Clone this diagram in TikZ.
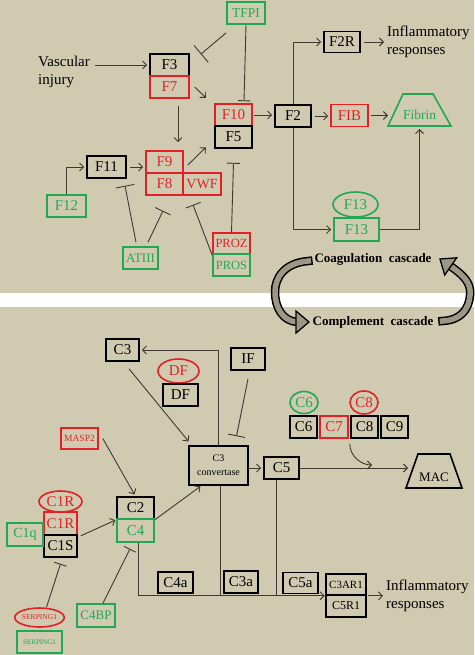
\documentclass[tikz,border=0pt]{standalone}
\usepackage{fontspec}
\setmainfont{Liberation Serif}
\usepackage{tikz}
\usetikzlibrary{arrows.meta, shapes.geometric}

\definecolor{bg}{RGB}{208,202,177}
\definecolor{myred}{RGB}{228,32,38}
\definecolor{mygreen}{RGB}{34,168,84}
\definecolor{linegray}{RGB}{62,58,48}
\definecolor{arrowfill}{RGB}{156,151,130}

\tikzset{
  box/.style={draw, line width=1.6pt, inner sep=0pt, minimum height=22pt, font=\fontsize{15}{18}\selectfont},
  blk/.style={box, draw=black, text=black},
  rbox/.style={box, draw=myred, text=myred},
  gbox/.style={box, draw=mygreen, text=mygreen},
  oval/.style={ellipse, line width=1.6pt, inner sep=0pt, font=\fontsize{15}{18}\selectfont},
  rell/.style={oval, draw=myred, text=myred},
  gell/.style={oval, draw=mygreen, text=mygreen},
  trap/.style={inner sep=0pt, outer sep=0pt, minimum height=22pt},
  txt/.style={inner sep=1pt, align=left, font=\fontsize{15}{18}\selectfont},
  casc/.style={inner sep=1pt, font=\bfseries\fontsize{13}{15}\selectfont},
  arr/.style={draw=linegray, line width=0.9pt, -{Straight Barb[length=4pt,width=8pt]}, shorten >=2pt},
  inh/.style={draw=linegray, line width=0.9pt, -{Bar[width=14pt]}},
  ln/.style={draw=linegray, line width=0.9pt},
  bigarr/.style={line width=1.5pt, double=arrowfill, double distance=5.5pt, line cap=rect},
  bighead/.style={fill=arrowfill, draw=black, line width=1.3pt, line join=miter}
}

\begin{document}
\begin{tikzpicture}[x=1pt,y=-1pt]

\fill[bg] (0,0) rectangle (474,655);
\useasboundingbox (0,0) rectangle (474,655);
\fill[white] (0,293) rectangle (474,307);

\node[txt, anchor=west] (vasc) at (37,72) {Vascular\\injury};
\node[gbox, minimum width=38pt, font=\fontsize{13.5}{16}\selectfont] (tfpi) at (246,13) {TFPI};
\node[blk, minimum width=39pt] (f3) at (169.5,65) {F3};
\node[rbox, minimum width=39pt] (f7) at (169.5,87) {F7};
\node[rbox, minimum width=37pt] (f10) at (233.5,115) {F10};
\node[blk, minimum width=37pt] (f5) at (233.5,137) {F5};
\node[rbox, minimum width=37pt] (f9) at (164.5,162) {F9};
\node[rbox, minimum width=37pt] (f8) at (164.5,184) {F8};
\node[rbox, minimum width=38pt, font=\fontsize{14}{17}\selectfont] (vwf) at (202,184) {VWF};
\node[blk, minimum width=39pt] (f11) at (106.5,167) {F11};
\node[gbox, minimum width=39pt] (f12) at (66.5,206) {F12};
\node[gbox, minimum width=35pt, font=\fontsize{13}{16}\selectfont] (atiii) at (140.5,258) {ATIII};
\node[rbox, minimum width=37pt, minimum height=21pt, font=\fontsize{12.5}{15}\selectfont] (proz) at (231.5,243.5) {PROZ};
\node[gbox, minimum width=37pt, font=\fontsize{12.5}{15}\selectfont] (pros) at (231.5,265) {PROS};
\node[blk, minimum width=36pt] (f2) at (293,116) {F2};
\node[blk, minimum width=36pt, minimum height=21pt] (f2r) at (342,42) {F2R};
\node[txt, anchor=west] (infl1) at (386,42) {Inflammatory\\responses};
\node[rbox, minimum width=37pt] (fib) at (349.5,115.5) {FIB};
\node[trap, minimum width=63pt, text=mygreen, font=\fontsize{13.5}{16}\selectfont] (fibrin) at (419.5,115) {Fibrin};
\draw[mygreen, line width=1.6pt] (fibrin.south west) -- ([xshift=15pt,yshift=10pt]fibrin.north west)
  -- ([xshift=-18pt,yshift=10pt]fibrin.north east) -- (fibrin.south east) -- cycle;
\node[gell, minimum width=45pt, minimum height=25pt] (f13e) at (355.5,204.5) {F13};
\node[gbox, minimum width=45pt, minimum height=23pt] (f13) at (356.5,229.5) {F13};
\node[casc] (coag) at (373,259) {Coagulation~~cascade};
\node[casc] (compl) at (373,322) {Complement~~cascade};

\draw[arr, shorten <=4pt] (vasc.east |- f3.west) -- (f3.west);
\draw[inh, -{Bar[width=22pt]}] ([yshift=-8pt]tfpi.south west) -- ([xshift=11pt,yshift=-1pt]f3.north east);
\draw[inh, -{Bar[width=12pt]}] (tfpi.south) -- ([xshift=10.5pt,yshift=2pt]f10.north);
\draw[arr] ([xshift=5pt]f7.east) -- ([xshift=-7pt,yshift=4pt]f10.north west);
\draw[arr, shorten <=7pt, shorten >=8pt] ([xshift=8.5pt]f7.south) -- ([xshift=8.5pt]f7.south |- f9.north);
\draw[arr] ([xshift=4pt,yshift=-3pt]f9.east) -- ([xshift=-7pt,yshift=-9pt]f5.west);
\draw[arr, shorten <=3pt] (f11.east) -- (f11.east -| f9.west);
\draw[arr] (f12.north) |- (f11.west);
\draw[inh, -{Bar[width=19pt]}] ([xshift=-4.5pt,yshift=4pt]atiii.north) -- ([xshift=18.5pt,yshift=-7pt]f11.south);
\draw[inh, -{Bar[width=17pt]}] ([xshift=7.5pt,yshift=4pt]atiii.north) -- ([xshift=-1.5pt,yshift=-15pt]f8.south);
\draw[inh, -{Bar[width=13pt]}] (proz.north) -- ([yshift=-14pt]f5.south);
\draw[inh, -{Bar[width=16pt]}] ([yshift=-2pt]pros.north west) -- ([xshift=-9pt,yshift=-9pt]vwf.south);
\draw[arr, shorten <=1pt] (f10.east) -- (f10.east -| f2.west);
\draw[arr] (f2.north) |- (f2r.west);
\draw[arr, shorten <=3pt] (f2r.east) -- (f2r.east -| infl1.west);
\draw[arr, shorten <=3pt] (f2.east) -- (f2.east -| fib.west);
\draw[arr, shorten <=2pt, shorten >=0pt] (fib.east) -- (fib.east -| fibrin.west);
\draw[arr] (f2.south) |- (f13.west);
\draw[arr, shorten >=3pt] (f13.east) -| (fibrin.south);

\draw[bigarr] ([xshift=-5pt,yshift=-2pt]coag.west) .. controls (284,263) and (275,278) .. (275,292)
  .. controls (275,308) and (283,321) .. (297,322);
\filldraw[bighead] (296,311) -- (309,322) -- (296,333) -- cycle;
\draw[bigarr] ([xshift=8pt,yshift=1pt]compl.east) .. controls (466,320) and (471,302) .. (470,290)
  .. controls (469,280) and (460,273) .. (451,266.5);
\filldraw[bighead] (456.7,257.8) -- (440,259) -- (444.7,275) -- cycle;

\node[blk, minimum width=33pt] (c3) at (122.5,350) {C3};
\node[rell, minimum width=41pt, minimum height=24pt] (dfe) at (178.5,371) {DF};
\node[blk, minimum width=35pt] (df) at (180.5,395) {DF};
\node[blk, minimum width=34pt] (ifac) at (248,359) {IF};
\node[blk, minimum width=59pt, minimum height=39pt, align=center, font=\fontsize{10}{14}\selectfont] (c3conv) at (218.5,465.5) {C3\\convertase};
\node[blk, minimum width=35pt] (c5) at (281.5,468) {C5};
\node[trap, minimum width=56pt, font=\fontsize{13}{16}\selectfont] (mac) at (434,477) {MAC};
\draw[black, line width=1.6pt] (mac.south west) -- ([xshift=12pt,yshift=12pt]mac.north west)
  -- ([xshift=-12pt,yshift=12pt]mac.north east) -- (mac.south east) -- cycle;
\node[gell, minimum width=28pt, minimum height=22pt] (c6e) at (304,402.5) {C6};
\node[blk, minimum width=27pt] (c6) at (303.5,427) {C6};
\node[rbox, minimum width=28pt] (c7) at (334,427) {C7};
\node[blk, minimum width=27pt] (c8) at (364.5,427) {C8};
\node[blk, minimum width=27pt] (c9) at (394.5,427) {C9};
\node[rell, minimum width=28pt, minimum height=23pt] (c8e) at (364,402.5) {C8};
\node[rbox, minimum width=37pt, minimum height=21pt, font=\fontsize{9.5}{11}\selectfont] (masp2) at (79.5,438.5) {MASP2};
\node[blk, minimum width=37pt] (c2) at (135.5,508) {C2};
\node[gbox, minimum width=37pt, minimum height=23pt] (c4) at (135.5,530.5) {C4};
\node[rell, minimum width=43pt, minimum height=21pt] (c1re) at (60.5,501.5) {C1R};
\node[rbox, minimum width=33pt, minimum height=23pt] (c1r) at (60.5,523.5) {C1R};
\node[blk, minimum width=33pt] (c1s) at (60.5,546) {C1S};
\node[gbox, minimum width=36pt, minimum height=23pt, font=\fontsize{14}{17}\selectfont] (c1q) at (25,534.5) {C1q};
\node[rell, minimum width=45pt, minimum height=19pt, font=\fontsize{7.5}{9}\selectfont] (serpe) at (39.5,617.5) {SERPING1};
\node[gbox, minimum width=45pt, font=\fontsize{7}{9}\selectfont] (serp) at (39.5,642) {SERPING1};
\node[gbox, minimum width=38pt, minimum height=23pt, font=\fontsize{13}{16}\selectfont] (c4bp) at (96,615.5) {C4BP};
\node[blk, minimum width=35pt, minimum height=21pt] (c4a) at (175.5,582.5) {C4a};
\node[blk, minimum width=34pt] (c3a) at (241,582) {C3a};
\node[blk, minimum width=35pt, minimum height=21pt] (c5a) at (300.5,583) {C5a};
\node[blk, minimum width=40pt, minimum height=21pt, font=\fontsize{11}{13}\selectfont] (c3ar1) at (346,584.5) {C3AR1};
\node[blk, minimum width=40pt, font=\fontsize{12}{14}\selectfont] (c5r1) at (346,606) {C5R1};
\node[txt, anchor=west] (infl2) at (385,596) {Inflammatory\\responses};
\coordinate (c7end) at (374,465);

\draw[arr] ([xshift=-0.5pt]c3conv.north) |- (c3.east);
\draw[arr, shorten >=1pt] ([xshift=6.5pt,yshift=-7pt]c3.south) -- ([xshift=1pt,yshift=3pt]c3conv.north west);
\draw[inh, -{Bar[width=17pt]}] ([yshift=-8pt]ifac.south) -- ([xshift=18pt,yshift=9pt]c3conv.north);
\draw[arr] (c5.west -| c3conv.east) -- (c5.west);
\draw[arr] (c5.east) -- ([xshift=4pt]c5.east -| mac.west);
\draw[arr] ([xshift=1pt,yshift=-5pt]c7.south east) to[out=-90,in=180] (c7end);
\draw[arr] ([xshift=4pt]masp2.east) -- (c2.north);
\draw[arr, shorten >=1pt] (c2.south east) -- ([xshift=13pt]c3conv.south west);
\draw[arr, shorten >=1pt] ([xshift=3pt]c1r.south east) -- (c2.south west);
\draw[inh, -{Bar[width=13pt]}] ([xshift=7pt]serpe.north) -- ([yshift=-6pt]c1s.south);
\draw[inh, -{Bar[width=13pt]}] ([xshift=7pt]c4bp.north) -- ([xshift=-5.5pt,yshift=-6pt]c4.south);
\draw[arr, shorten >=0.5pt] ([xshift=2.5pt]c4.south) |- (c3ar1.south west);
\draw[ln] ([xshift=1.5pt]c3conv.south) -- ([xshift=1.5pt]c3conv.south |- c3ar1.south west);
\draw[ln] ([xshift=-5.5pt]c5.south) -- ([xshift=-5.5pt]c5.south |- c3ar1.south west);
\draw[arr, shorten <=1pt] (c3ar1.south east) -- (c3ar1.south east -| infl2.west);

\end{tikzpicture}
\end{document}
